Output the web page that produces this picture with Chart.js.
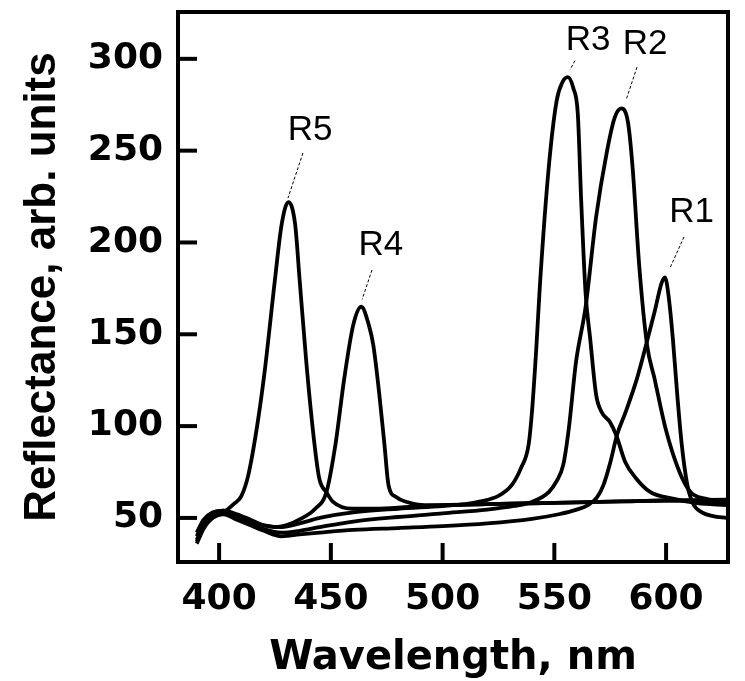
<!DOCTYPE html>
<html lang="en">
<head>
    <meta charset="UTF-8">
    <title>Reflectance spectra</title>
    <script src="https://cdn.jsdelivr.net/npm/chart.js"></script>
    <style>
        body {
            margin: 0;
            background-color: #ffffff;
        }
        #wrap {
            width: 745px;
            height: 681px;
        }
    </style>
</head>
<body>
    <div id="wrap">
        <canvas id="chart" width="745" height="681"></canvas>
    </div>

    <script>
        // data
        const xTicks = [400, 450, 500, 550, 600];
        const yTicks = [50, 100, 150, 200, 250, 300];

        const wlR1 = [390, 393, 397, 402, 408, 414, 420, 428, 436, 445, 460, 480, 500, 520, 540, 552, 560, 565, 569, 572, 575, 578, 582, 587, 591, 595, 598, 599.5, 601, 603, 605, 607, 609.5, 612, 616, 621, 627];
        const valR1 = [36, 44, 50, 52, 49, 46, 43, 40, 41, 42, 43.5, 44.5, 45.5, 47, 49.5, 52, 54.5, 57, 61, 68, 80, 95, 108, 126, 144, 163, 178, 181, 172, 148, 117, 90, 68, 58, 53, 51, 50];

        const wlR2 = [390, 393, 397, 402, 408, 414, 420, 428, 436, 445, 460, 480, 500, 520, 532, 540, 547.5, 551, 554, 556.5, 559.7, 564, 568.7, 573.6, 577, 580, 583, 585, 588, 591.5, 594.8, 599.7, 606, 611, 617.6, 627];
        const valR2 = [38, 46, 51, 53, 50, 47, 44, 42, 43, 45, 48, 50.5, 52.5, 54.5, 56.5, 58.7, 64, 70, 79, 99, 135, 165, 214, 250, 268, 273, 265, 241, 187, 144, 126, 99, 75, 64, 60.5, 58.5];

        const wlR3 = [390, 393, 397, 402, 408, 414, 420, 428, 436, 445, 460, 480, 500, 510, 517, 525, 531, 535, 538.5, 540, 542, 543.5, 547.5, 551, 553.5, 556, 558.5, 560.5, 562, 564, 566, 568.7, 571, 575, 577.7, 581.7, 586.6, 593, 603, 614, 627];
        const valR3 = [40, 48, 52, 54, 52, 49, 46, 45, 47, 50, 53, 55, 56.5, 57.5, 59, 62, 68, 77, 90, 108, 144, 176, 241, 277, 287, 290, 284, 270, 223, 172, 148, 117, 108, 102, 95, 80.5, 71.5, 64, 60.5, 58, 57];

        const wlR4 = [390, 393, 397, 402, 408, 414, 420, 425, 430, 436.7, 443, 448, 452, 456, 460, 463.6, 467, 469, 471.7, 474, 475.8, 479, 484, 492, 500, 520, 540, 560, 580, 600, 627];
        const valR4 = [42, 49, 53, 54, 51, 48, 46, 45, 46, 49.6, 55, 64, 89.6, 126, 155, 165, 155, 144, 117, 89.6, 67.8, 61.5, 58.7, 57, 57, 57.5, 58, 58.5, 59, 59.5, 59];

        const wlR5 = [390, 393, 397, 402, 407, 410, 413, 417, 420.4, 425, 428, 431, 434, 436, 439, 442.4, 444.8, 448, 451, 459.5, 470, 485, 500, 520, 540, 560, 580, 600, 627];
        const valR5 = [37, 45, 50, 53, 58, 62, 73, 100, 130, 180, 210, 222, 210, 180, 135, 93, 71.5, 64, 58.7, 55, 55, 56, 57, 57.5, 58, 58.5, 59, 59.5, 60];

        // peak labels: name, text position, leader line from -> to
        const peakNames = ["R1", "R2", "R3", "R4", "R5"];
        const labelPos = [[611.4, 216.3], [590.6, 307.8], [565.1, 310.3], [472.4, 198.6], [440.7, 261.2]];
        const leaderFrom = [[608, 203], [587, 295.5], [559.2, 299], [468.4, 185], [437.5, 248.7]];
        const leaderTo = [[601.7, 186], [582.1, 277.6], [557, 294], [464, 169], [430.8, 224.2]];

        function toPoints(xs, ys) {
            return xs.map((x, i) => ({ x: x, y: ys[i] }));
        }

        const series = [[wlR1, valR1], [wlR2, valR2], [wlR3, valR3], [wlR4, valR4], [wlR5, valR5]];

        const datasets = series.map((s, i) => ({
            label: peakNames[i],
            data: toPoints(s[0], s[1]),
            borderColor: '#000000',
            borderWidth: 3.8,
            pointRadius: 0,
            fill: false,
            cubicInterpolationMode: 'monotone',
            borderJoinStyle: 'round'
        }));

        // frame, inward ticks and peak labels
        const framePlugin = {
            id: 'frame',
            afterDraw(chart) {
                const ctx = chart.ctx;
                const area = chart.chartArea;
                const xs = chart.scales.x;
                const ys = chart.scales.y;
                ctx.save();
                ctx.strokeStyle = '#000';
                ctx.lineWidth = 4;
                ctx.strokeRect(area.left, area.top, area.right - area.left, area.bottom - area.top);

                xTicks.forEach(v => {
                    const px = xs.getPixelForValue(v);
                    ctx.beginPath();
                    ctx.moveTo(px, area.bottom);
                    ctx.lineTo(px, area.bottom - 19);
                    ctx.stroke();
                });
                yTicks.forEach(v => {
                    const py = ys.getPixelForValue(v);
                    ctx.beginPath();
                    ctx.moveTo(area.left, py);
                    ctx.lineTo(area.left + 19, py);
                    ctx.stroke();
                });

                ctx.lineWidth = 1;
                ctx.setLineDash([3, 2]);
                peakNames.forEach((name, i) => {
                    ctx.beginPath();
                    ctx.moveTo(xs.getPixelForValue(leaderFrom[i][0]), ys.getPixelForValue(leaderFrom[i][1]));
                    ctx.lineTo(xs.getPixelForValue(leaderTo[i][0]), ys.getPixelForValue(leaderTo[i][1]));
                    ctx.stroke();
                });
                ctx.setLineDash([]);

                ctx.fillStyle = '#000';
                ctx.font = '35px "Liberation Sans", Arial, sans-serif';
                ctx.textAlign = 'center';
                ctx.textBaseline = 'middle';
                peakNames.forEach((name, i) => {
                    ctx.fillText(name, xs.getPixelForValue(labelPos[i][0]), ys.getPixelForValue(labelPos[i][1]));
                });
                ctx.restore();
            }
        };

        const tickFont = { family: '"DejaVu Sans", sans-serif', size: 36, weight: 'bold' };

        const ctx = document.getElementById('chart').getContext('2d');
        const chart = new Chart(ctx, {
            type: 'line',
            data: { datasets: datasets },
            options: {
                responsive: false,
                animation: false,
                layout: { padding: { top: 12, right: 17, left: 0, bottom: 0 } },
                plugins: {
                    legend: { display: false },
                    tooltip: { enabled: false }
                },
                scales: {
                    x: {
                        type: 'linear',
                        min: 381.6,
                        max: 627.7,
                        afterBuildTicks: s => { s.ticks = xTicks.map(v => ({ value: v })); },
                        afterFit: s => {
                            s.height = 119;
                            s.paddingLeft = 0;
                            s.paddingRight = 0;
                        },
                        grid: { display: false, drawTicks: false },
                        border: { display: false },
                        ticks: { color: '#000', font: tickFont, padding: 16, maxRotation: 0 },
                        title: {
                            display: true,
                            text: 'Wavelength, nm',
                            color: '#000',
                            font: { family: '"DejaVu Sans", sans-serif', size: 40, weight: 'bold', lineHeight: 1 },
                            padding: { top: 0, bottom: 2 }
                        }
                    },
                    y: {
                        type: 'linear',
                        min: 26,
                        max: 325.5,
                        afterBuildTicks: s => { s.ticks = yTicks.map(v => ({ value: v })); },
                        afterFit: s => {
                            s.width = 178;
                            s.paddingTop = 0;
                            s.paddingBottom = 0;
                        },
                        grid: { display: false, drawTicks: false },
                        border: { display: false },
                        ticks: { color: '#000', font: tickFont, padding: 15 },
                        title: {
                            display: true,
                            text: 'Reflectance, arb. units',
                            color: '#000',
                            font: { family: '"Liberation Sans", Arial, sans-serif', size: 44, weight: 'bold', lineHeight: 1 },
                            padding: { top: 21, bottom: 0 }
                        }
                    }
                }
            },
            plugins: [framePlugin]
        });
    </script>
</body>
</html>
